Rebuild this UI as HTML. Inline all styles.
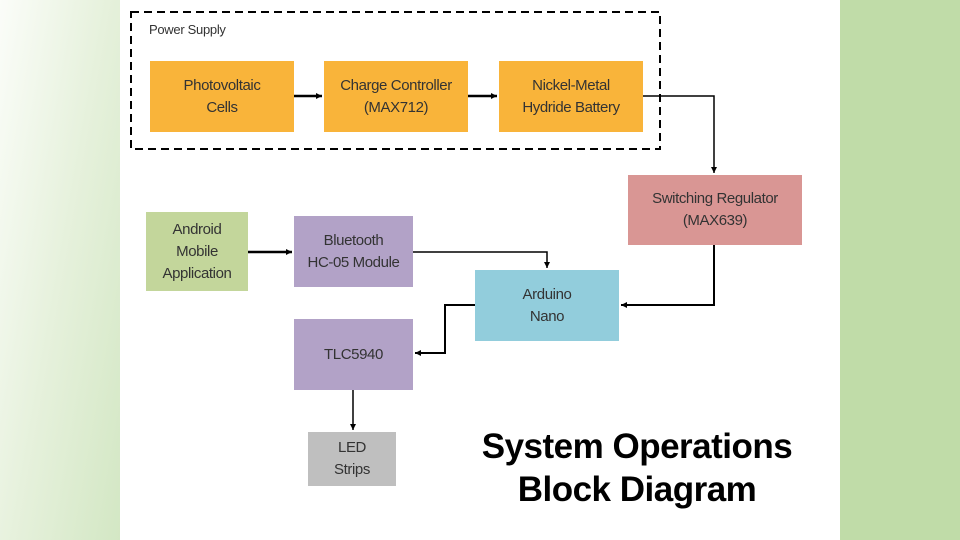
<!DOCTYPE html>
<html><head><style>
body{margin:0;width:960px;height:540px;overflow:hidden;position:relative;font-family:"Liberation Sans",sans-serif;background:#fff}
.l{position:absolute;left:0;top:0;width:120px;height:540px;background:linear-gradient(100deg,#fbfdf9 0%,#e6f1dc 50%,#d3e7c4 100%)}
.r{position:absolute;left:840px;top:0;width:120px;height:540px;background:#c0dca8}
.b{position:absolute;display:flex;align-items:center;justify-content:center;text-align:center;font-size:15px;line-height:22px;color:#333;letter-spacing:-0.4px}
</style></head><body>
<div class="l"></div><div class="r"></div>
<svg width="960" height="540" style="position:absolute;left:0;top:0">
<defs><marker id="a" markerWidth="8" markerHeight="8" refX="6" refY="4" orient="auto" markerUnits="userSpaceOnUse"><path d="M0,1 L6,4 L0,7z" fill="#000"/></marker></defs>
<rect x="131" y="12" width="529" height="137" fill="none" stroke="#000" stroke-width="2" stroke-dasharray="8,5"/>
<g stroke="#000" fill="none" stroke-width="1.5">
<path d="M294 96H322" stroke-width="2.5" marker-end="url(#a)"/>
<path d="M468 96H497" stroke-width="2.5" marker-end="url(#a)"/>
<path d="M643 96H714V173" marker-end="url(#a)"/>
<path d="M714 245V305H621" stroke-width="2" marker-end="url(#a)"/>
<path d="M413 252H547V268" marker-end="url(#a)"/>
<path d="M248 252H292" stroke-width="2.5" marker-end="url(#a)"/>
<path d="M475 305H445V353H415" stroke-width="2" marker-end="url(#a)"/>
<path d="M353 390V430" marker-end="url(#a)"/>
</g></svg>
<div style="position:absolute;left:149px;top:22px;font-size:13px;color:#333;letter-spacing:-0.3px">Power Supply</div>
<div class="b" style="left:150px;top:61px;width:144px;height:71px;background:#f9b43a">Photovoltaic<br>Cells</div>
<div class="b" style="left:324px;top:61px;width:144px;height:71px;background:#f9b43a">Charge Controller<br>(MAX712)</div>
<div class="b" style="left:499px;top:61px;width:144px;height:71px;background:#f9b43a">Nickel-Metal<br>Hydride Battery</div>
<div class="b" style="left:628px;top:175px;width:174px;height:70px;background:#d99694">Switching Regulator<br>(MAX639)</div>
<div class="b" style="left:146px;top:212px;width:102px;height:79px;background:#c3d69b">Android<br>Mobile<br>Application</div>
<div class="b" style="left:294px;top:216px;width:119px;height:71px;background:#b2a2c7">Bluetooth<br>HC-05 Module</div>
<div class="b" style="left:475px;top:270px;width:144px;height:71px;background:#92cddc">Arduino<br>Nano</div>
<div class="b" style="left:294px;top:319px;width:119px;height:71px;background:#b2a2c7">TLC5940</div>
<div class="b" style="left:308px;top:432px;width:88px;height:54px;background:#bfbfbf">LED<br>Strips</div>
<div style="position:absolute;left:417px;top:425px;width:440px;text-align:center;font-weight:bold;font-size:35px;line-height:43px;color:#000;letter-spacing:-0.5px">System Operations<br>Block Diagram</div>
</body></html>
